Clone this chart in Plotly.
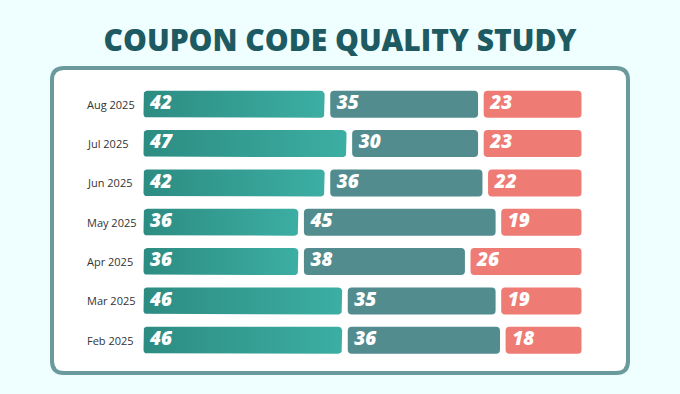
import math
import plotly.graph_objects as go

# ---- data ----
months = ["Aug 2025", "Jul 2025", "Jun 2025", "May 2025", "Apr 2025", "Mar 2025", "Feb 2025"]
good = [42, 47, 42, 36, 36, 46, 46]
fair = [35, 30, 36, 45, 38, 35, 36]
poor = [23, 23, 22, 19, 26, 19, 18]

# ---- style ----
W, H = 680, 394
BG = "#effefe"
C1A, C1B = "#2d8c82", "#3caea3"
C2 = "#528c8e"
C3 = "#ef7b75"
TITLE_C = "#1d5a61"
BORDER_C = "#6b9a9d"

# plot area in pixels
PX0, PX1 = 143.3, 581.7
ROW0, ROWN = 104.3, 340.2
n = len(months)
step = (ROWN - ROW0) / (n - 1)
PY0, PY1 = ROW0 - step / 2, ROWN + step / 2
px_per_x = (PX1 - PX0) / 100.0
px_per_y = step
GAP = 5.6 / px_per_x          # gap between segments, in data units
BAR_W = 27.0 / step           # bar thickness in category units
RAD = 4.0                     # corner radius px

idx = list(range(n))

fig = go.Figure()


def rounded_rect(x0, x1, yc, h, r_px):
    rx = r_px / px_per_x
    ry = r_px / px_per_y
    y0, y1 = yc - h / 2, yc + h / 2
    pts = []
    corners = [(x1 - rx, y0 + ry, -90, 0), (x1 - rx, y1 - ry, 0, 90),
               (x0 + rx, y1 - ry, 90, 180), (x0 + rx, y0 + ry, 180, 270)]
    for cx, cy, a0, a1 in corners:
        for k in range(7):
            a = math.radians(a0 + (a1 - a0) * k / 6)
            pts.append((cx + rx * math.cos(a), cy + ry * math.sin(a)))
    pts.append(pts[0])
    return [p[0] for p in pts], [p[1] for p in pts]


# first segment: gradient filled rounded bars
for i, v in zip(idx, good):
    xs, ys = rounded_rect(0, v - GAP / 2, i, BAR_W, RAD)
    fig.add_trace(go.Scatter(
        x=xs, y=ys, mode="lines", fill="toself", line=dict(width=0, color=C1B),
        fillgradient=dict(type="horizontal", colorscale=[[0, C1A], [1, C1B]]),
        hoverinfo="skip", showlegend=False))

base2 = [g + GAP / 2 for g in good]
w2 = [f - GAP for f in fair]
base3 = [g + f + GAP / 2 for g, f in zip(good, fair)]
w3 = [p - GAP / 2 for p in poor]

fig.add_trace(go.Bar(orientation="h", y=idx, x=w2, base=base2, width=BAR_W,
                     marker=dict(color=C2, cornerradius=RAD, line=dict(width=0)),
                     name="Fair", showlegend=False, hoverinfo="skip"))
fig.add_trace(go.Bar(orientation="h", y=idx, x=w3, base=base3, width=BAR_W,
                     marker=dict(color=C3, cornerradius=RAD, line=dict(width=0)),
                     name="Poor", showlegend=False, hoverinfo="skip"))

# value labels
LBL_OFF = 1.5
lab_font = dict(family="Open Sans", size=19, color="white", weight=800, style="italic")
for starts, vals in [([0] * n, good), (base2, fair), (base3, poor)]:
    fig.add_trace(go.Scatter(
        x=[s + LBL_OFF for s in starts], y=idx, mode="text",
        text=[str(v) for v in vals], textposition="middle right",
        textfont=lab_font, hoverinfo="skip", showlegend=False))

# month labels
for i, m in zip(idx, months):
    fig.add_annotation(x=85.0 / W, xref="paper", y=i, yref="y", text=m,
                       showarrow=False, xanchor="left", yanchor="middle",
                       font=dict(family="Open Sans", size=11, color="#333333"))

# panel with rounded corners (paper coords, margins are zero)
def P(x, y):
    return f"{x / W:.5f},{1 - y / H:.5f}"

L, R, T, B, r = 52.0, 628.0, 68.0, 373.0, 12.0
path = (f"M {P(L + r, T)} L {P(R - r, T)} Q {P(R, T)} {P(R, T + r)} "
        f"L {P(R, B - r)} Q {P(R, B)} {P(R - r, B)} L {P(L + r, B)} "
        f"Q {P(L, B)} {P(L, B - r)} L {P(L, T + r)} Q {P(L, T)} {P(L + r, T)} Z")
fig.add_shape(type="path", path=path, xref="paper", yref="paper",
              fillcolor="white", line=dict(color=BORDER_C, width=4), layer="below")

fig.update_layout(
    width=W, height=H,
    margin=dict(l=0, r=0, t=0, b=0),
    paper_bgcolor=BG, plot_bgcolor="rgba(0,0,0,0)",
    barmode="overlay",
    title=dict(text="COUPON CODE QUALITY STUDY", x=0.5, xanchor="center",
               y=1 - 40.5 / H, yanchor="middle",
               font=dict(family="Open Sans", size=30, color=TITLE_C, weight=800)),
    xaxis=dict(range=[0, 100], domain=[PX0 / W, PX1 / W], visible=False, fixedrange=True),
    yaxis=dict(range=[n - 0.5, -0.5], domain=[1 - PY1 / H, 1 - PY0 / H], visible=False,
               fixedrange=True),
    showlegend=False,
)

fig.write_html(
    "out.html",
    config={"displayModeBar": False},
    post_script="document.body.style.margin='0';document.body.style.padding='0';"
                "document.body.style.overflow='hidden';"
                "document.body.style.background='" + BG + "';",
)
